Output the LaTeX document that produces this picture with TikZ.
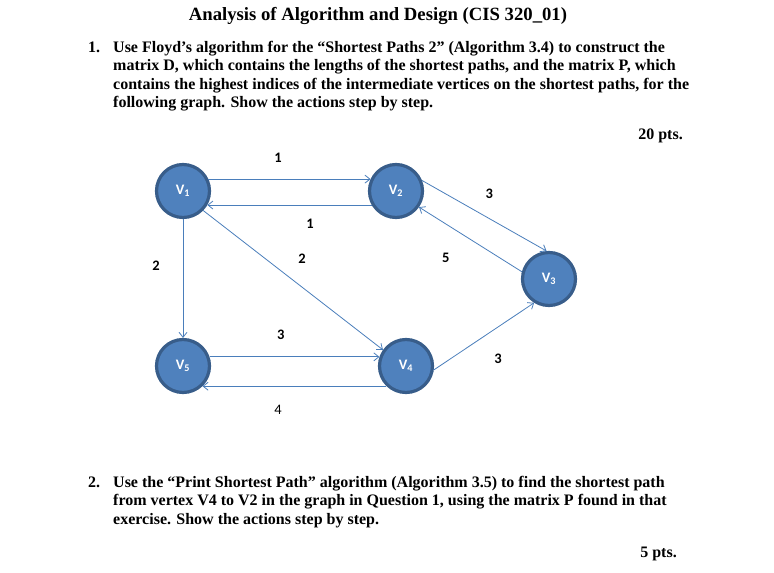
\documentclass[tikz,border=0pt]{standalone}
\usepackage{fontspec}
\setmainfont{Liberation Serif}
\newfontfamily\lblfont{Carlito}
\usepackage{xcolor}
\usepackage{tikz}
\usetikzlibrary{
	arrows.meta,
	positioning
}
\definecolor{vfill}{HTML}{4F81BD}
\definecolor{vline}{HTML}{385D8A}
\definecolor{eline}{HTML}{4A7EBB}

\begin{document}
\begin{tikzpicture}[
				x=1pt, y=1pt,
				vertex/.style={
					circle, draw=vline, line width=3.2pt, fill=vfill,
					minimum size=53pt, inner sep=0pt,
					text=white, font=\lblfont\bfseries\fontsize{14.5}{14.5}\selectfont
				},
				arrow/.style={-{Straight Barb[length=5pt, width=8pt]}, eline, line width=0.8pt},
				lbl/.style={
					inner sep=0pt, text=black, font=\lblfont\bfseries\fontsize{14.5}{14.5}\selectfont
				},
				lbllight/.style={
					lbl, font=\lblfont\fontsize{14.5}{14.5}\selectfont
				},
				textline/.style={
					inner sep=0pt, font=\bfseries\fontsize{16}{18.5}\selectfont
				},
				]
				\useasboundingbox (0,0) rectangle (774,-573);
				
				%heading
				\node[inner sep=0pt, font=\bfseries\fontsize{18.7}{20}\selectfont] (title) at (378,-16) {Analysis of Algorithm and Design (CIS 320\_01)};
				
				%question 1 (base of the node = base of its last line)
				\node[textline, anchor=base west] (num1) at (88,-52) {1.};
				\node[textline, anchor=base west, align=left] (q1) at (113,-107.5) {Use Floyd’s algorithm for the “Shortest Paths 2” (Algorithm 3.4) to construct the\\
					matrix D, which contains the lengths of the shortest paths, and the matrix P, which\\
					contains the highest indices of the intermediate vertices on the shortest paths, for the\\
					following graph. Show the actions step by step.};
				\node[textline, anchor=base east] (pts1) at (683,-139) {20 pts.};
				
				%graph
				\node[vertex] (v1) at (183,-191) {V\textsubscript{1}};
				\node (v2) at (v1) [vertex, xshift=213pt] {V\textsubscript{2}};
				\node (v3) at (v2) [vertex, xshift=153pt, yshift=-88pt] {V\textsubscript{3}};
				\node (v5) at (v1) [vertex, yshift=-175pt] {V\textsubscript{5}};
				\node (v4) at (v5) [vertex, xshift=223pt] {V\textsubscript{4}};
				
				\draw[arrow] (v1.25) -- (v2.155) node[lbl, pos=.43, yshift=21pt] (w12) {1};
				\draw[arrow] (v2.210) -- (v1.-30) node[lbl, pos=.375, yshift=-19pt] (w21) {1};
				\draw[arrow] (v1.south) -- (v5.north) node[lbl, pos=.39, xshift=-27pt] (w15) {2};
				\draw[arrow] (v1.-44) -- (v4.145) node[lbl, pos=.55, yshift=28pt] (w14) {2};
				\draw[arrow] (v2.22) -- (v3.95) node[lbl, pos=.54, yshift=25pt] (w23) {3};
				\draw[arrow] (v3.165) -- (v2.-35) node[lbl, pos=.74, yshift=-34pt] (w32) {5};
				\draw[arrow] (v5.19) -- (v4.161) node[lbl, pos=.42, yshift=22pt] (w54) {3};
				\draw[arrow] (v4.226) -- (v5.-46) node[lbllight, pos=.59, yshift=-24pt] (w45) {4};
				\draw[arrow] (v4.-8) -- (v3.238) node[lbl, pos=.64, yshift=-32pt] (w43) {3};
				
				%question 2
				\node[textline, anchor=base west] (num2) at (88,-487) {2.};
				\node[textline, anchor=base west, align=left] (q2) at (113,-524) {Use the “Print Shortest Path” algorithm (Algorithm 3.5) to find the shortest path\\
					from vertex V4 to V2 in the graph in Question 1, using the matrix P found in that\\
					exercise. Show the actions step by step.};
				\node[textline, anchor=base east] (pts2) at (677,-557) {5 pts.};
			\end{tikzpicture}
\end{document}
